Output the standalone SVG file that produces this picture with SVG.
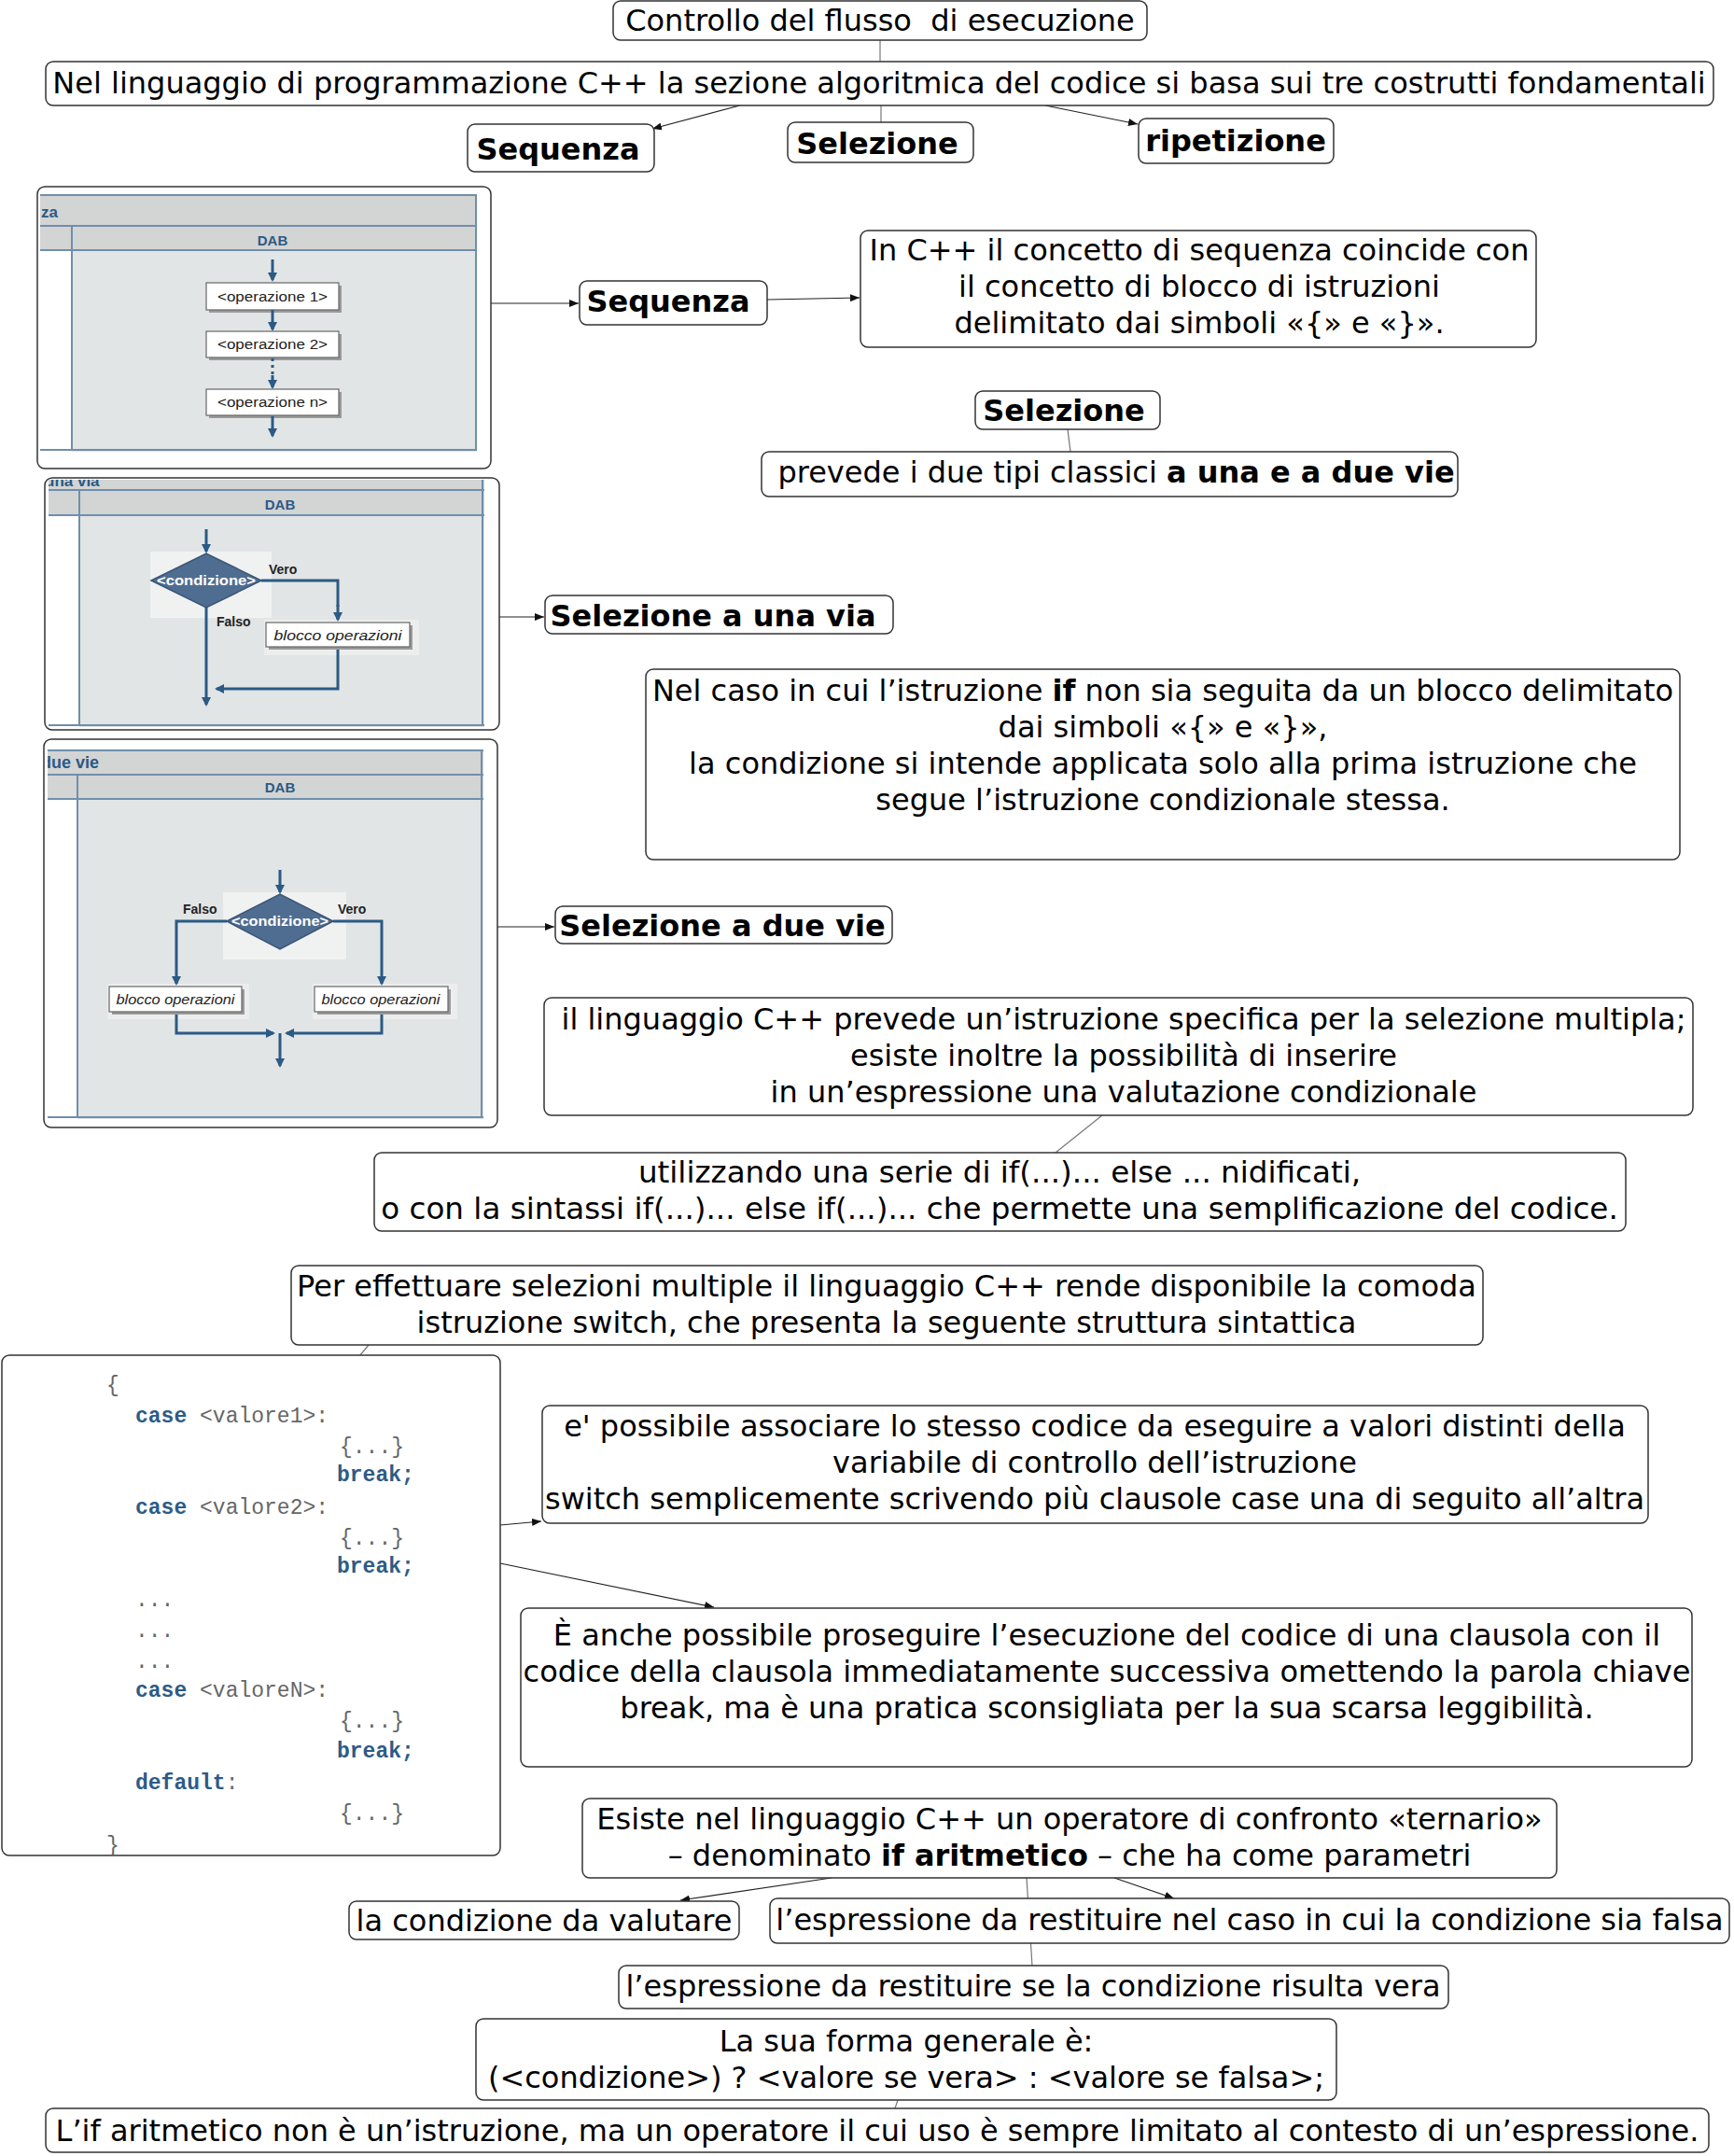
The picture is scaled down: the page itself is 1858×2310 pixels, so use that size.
<svg xmlns="http://www.w3.org/2000/svg" width="1858" height="2310" viewBox="0 0 1858 2310">
<style>
.box{fill:#fff;stroke:#333;stroke-width:1.5}
.t{font-family:"DejaVu Sans",sans-serif;font-size:32px;fill:#000;text-anchor:middle}
.b{font-weight:bold}
.ln{stroke:#777;stroke-width:1.2;fill:none}
.ar{stroke:#222;stroke-width:1.2;fill:none;marker-end:url(#ah)}
.band{fill:#d3d4d4}
.body{fill:#e2e5e5}
.bl{stroke:#6f8fab;stroke-width:2;fill:none}
.fl{stroke:#2b5a85;stroke-width:3;fill:none}
.fla{stroke:#2b5a85;stroke-width:3;fill:none;marker-end:url(#fa)}
.hd{font-family:"Liberation Sans",sans-serif;font-weight:bold;fill:#2b5a85}
.op{fill:#fff;stroke:#666;stroke-width:1.2}
.sh{fill:#9a9a9a}
.opt{font-family:"Liberation Sans",sans-serif;font-size:14px;fill:#222;text-anchor:middle}
.dia{fill:#4f6d90;stroke:#3a5577;stroke-width:1.5}
.lab{font-family:"Liberation Sans",sans-serif;font-size:14px;font-weight:bold;fill:#222}
.mono{font-family:"Liberation Mono",monospace;font-size:23px;fill:#666}
.kw{font-weight:bold;fill:#2d5b87}
</style>
<defs>
<marker id="ah" markerUnits="userSpaceOnUse" markerWidth="10" markerHeight="8" refX="10" refY="4" orient="auto"><path d="M0,0 L10,4 L0,8 z" fill="#111"/></marker>
<marker id="fa" markerUnits="userSpaceOnUse" markerWidth="10" markerHeight="10" refX="8" refY="5" orient="auto"><path d="M0,0 L10,5 L0,10 z" fill="#2b5a85"/></marker>
<clipPath id="cp1"><rect x="43" y="208" width="468" height="276"/></clipPath>
<clipPath id="cp2"><rect x="52" y="514" width="467" height="265"/></clipPath>
<clipPath id="cp3"><rect x="51" y="803" width="467" height="396"/></clipPath>
</defs>
<rect width="1858" height="2310" fill="#fff"/>

<g id="connectors">
<line class="ln" x1="943" y1="43" x2="943" y2="66"/>
<line class="ar" x1="793" y1="113" x2="699" y2="138"/>
<line class="ln" x1="944" y1="113" x2="944" y2="131"/>
<line class="ar" x1="1120" y1="113" x2="1219" y2="133"/>
<line class="ar" x1="526" y1="325" x2="620" y2="325"/>
<line class="ar" x1="822" y1="321" x2="921" y2="319"/>
<line class="ln" x1="1144" y1="460" x2="1147" y2="484"/>
<line class="ar" x1="535" y1="661" x2="583" y2="661"/>
<line class="ar" x1="533" y1="993" x2="594" y2="993"/>
<line class="ln" x1="1181" y1="1195" x2="1131" y2="1235"/>
<line class="ln" x1="395" y1="1441" x2="385" y2="1453"/>
<line class="ar" x1="536" y1="1634" x2="580" y2="1630"/>
<line class="ar" x1="536" y1="1675" x2="765" y2="1722"/>
<line class="ar" x1="891" y1="2012" x2="729" y2="2036"/>
<line class="ln" x1="1100" y1="2012" x2="1106" y2="2106"/>
<line class="ar" x1="1194" y1="2012" x2="1258" y2="2034"/>
<line class="ln" x1="962" y1="2250" x2="959" y2="2259"/>
</g>

<g id="n-controllo"><rect class="box" x="657" y="1" width="572" height="42" rx="8"/><text class="t" x="943" y="33">Controllo del flusso&#160; di esecuzione</text></g>
<g id="n-nel"><rect class="box" x="49" y="66" width="1787" height="47" rx="8"/><text class="t" x="942" y="100">Nel linguaggio di programmazione C++ la sezione algoritmica del codice si basa sui tre costrutti fondamentali</text></g>
<g id="n-sequenza"><rect class="box" x="501" y="133" width="200" height="51" rx="8"/><text class="t b" x="598" y="171">Sequenza</text></g>
<g id="n-selezione"><rect class="box" x="844" y="131" width="199" height="43" rx="8"/><text class="t b" x="940" y="165">Selezione</text></g>
<g id="n-ripetizione"><rect class="box" x="1220" y="127" width="209" height="48" rx="8"/><text class="t b" x="1324" y="162">ripetizione</text></g>

<g id="n-img-sequenza">
<rect class="box" x="40" y="200" width="486" height="302" rx="8"/>
<g clip-path="url(#cp1)">
<rect class="body" x="43" y="208" width="468" height="276"/>
<rect x="43" y="268" width="34" height="216" fill="#fff"/>
<rect class="band" x="43" y="208" width="468" height="60"/>
<line class="bl" x1="43" y1="209" x2="511" y2="209"/>
<line class="bl" x1="43" y1="242" x2="511" y2="242"/>
<line class="bl" x1="43" y1="268" x2="511" y2="268"/>
<line class="bl" x1="77" y1="242" x2="77" y2="483" stroke="#9cb0c2"/>
<line class="bl" x1="510" y1="208" x2="510" y2="483"/>
<line class="bl" x1="43" y1="482" x2="511" y2="482"/>
<text class="hd" x="44" y="233" font-size="17">za</text>
<text class="hd" x="292" y="263" font-size="15" text-anchor="middle">DAB</text>
<line class="fla" x1="292" y1="278" x2="292" y2="300"/>
<rect class="sh" x="224" y="306" width="142" height="29"/><rect class="op" x="221" y="303" width="142" height="29"/>
<text class="opt" x="292" y="323" textLength="118" lengthAdjust="spacingAndGlyphs">&lt;operazione 1&gt;</text>
<line class="fla" x1="292" y1="332" x2="292" y2="353"/>
<rect class="sh" x="224" y="358" width="142" height="28"/><rect class="op" x="221" y="355" width="142" height="28"/>
<text class="opt" x="292" y="374" textLength="118" lengthAdjust="spacingAndGlyphs">&lt;operazione 2&gt;</text>
<line class="fl" x1="292" y1="384" x2="292" y2="402" stroke-dasharray="3,4"/>
<line class="fla" x1="292" y1="402" x2="292" y2="415"/>
<rect class="sh" x="224" y="420" width="142" height="28"/><rect class="op" x="221" y="417" width="142" height="28"/>
<text class="opt" x="292" y="436" textLength="118" lengthAdjust="spacingAndGlyphs">&lt;operazione n&gt;</text>
<line class="fla" x1="292" y1="446" x2="292" y2="467"/>
</g>
</g>

<g id="n-sequenza2"><rect class="box" x="621" y="301" width="201" height="47" rx="8"/><text class="t b" x="716" y="334">Sequenza</text></g>
<g id="n-inc"><rect class="box" x="922" y="247" width="724" height="125" rx="8"/>
<text class="t" x="1285" y="279">In C++ il concetto di sequenza coincide con</text>
<text class="t" x="1285" y="318">il concetto di blocco di istruzioni</text>
<text class="t" x="1285" y="357">delimitato dai simboli «{» e «}».</text></g>
<g id="n-selezione2"><rect class="box" x="1045" y="419" width="198" height="41" rx="8"/><text class="t b" x="1140" y="451">Selezione</text></g>
<g id="n-prevede"><rect class="box" x="816" y="484" width="746" height="48" rx="8"/><text class="t" x="1196" y="517">prevede i due tipi classici <tspan class="b">a una e a due vie</tspan></text></g>

<g id="n-img-unavia">
<rect class="box" x="48" y="512" width="487" height="270" rx="8"/>
<g clip-path="url(#cp2)">
<rect class="body" x="52" y="514" width="467" height="265"/>
<rect x="52" y="552" width="33" height="227" fill="#fff"/>
<rect class="band" x="52" y="514" width="467" height="38"/>
<line class="bl" x1="52" y1="525" x2="519" y2="525"/>
<line class="bl" x1="52" y1="552" x2="519" y2="552"/>
<line class="bl" x1="85" y1="525" x2="85" y2="778" stroke="#9cb0c2"/>
<line class="bl" x1="517" y1="514" x2="517" y2="778"/>
<line class="bl" x1="52" y1="777" x2="519" y2="777"/>
<text class="hd" x="48" y="521" font-size="17">una via</text>
<text class="hd" x="300" y="546" font-size="15" text-anchor="middle">DAB</text>
<rect x="161" y="591" width="130" height="71" fill="#f0f1f1"/>
<rect x="283" y="664" width="166" height="38" fill="#eceeee"/>
<line class="fla" x1="221" y1="567" x2="221" y2="591"/>
<path class="fl" d="M280,622 H362 V650"/>
<line class="fla" x1="362" y1="648" x2="362" y2="664"/>
<path class="fla" d="M221,651 V755"/>
<path class="fla" d="M362,693 V738 H232"/>
<polygon class="dia" points="162,622 221,593 280,622 221,651"/>
<text class="opt" x="221" y="627" style="fill:#fff;font-weight:bold" textLength="106" lengthAdjust="spacingAndGlyphs">&lt;condizione&gt;</text>
<text class="lab" x="288" y="615">Vero</text>
<text class="lab" x="232" y="671">Falso</text>
<rect class="sh" x="288" y="670" width="154" height="26"/><rect class="op" x="285" y="667" width="154" height="26"/>
<text class="opt" x="362" y="686" font-style="italic" textLength="137" lengthAdjust="spacingAndGlyphs">blocco operazioni</text>
</g>
</g>

<g id="n-selunavia"><rect class="box" x="584" y="638" width="373" height="41" rx="8"/><text class="t b" x="764" y="671">Selezione a una via</text></g>
<g id="n-nelcaso"><rect class="box" x="692" y="717" width="1108" height="204" rx="8"/>
<text class="t" x="1246" y="751">Nel caso in cui l’istruzione <tspan class="b">if</tspan> non sia seguita da un blocco delimitato</text>
<text class="t" x="1246" y="790">dai simboli «{» e «}»,</text>
<text class="t" x="1246" y="829">la condizione si intende applicata solo alla prima istruzione che</text>
<text class="t" x="1246" y="868">segue l’istruzione condizionale stessa.</text></g>

<g id="n-img-duevie">
<rect class="box" x="47" y="792" width="486" height="416" rx="8"/>
<g clip-path="url(#cp3)">
<rect class="body" x="51" y="803" width="467" height="396"/>
<rect x="51" y="856" width="32" height="343" fill="#fff"/>
<rect class="band" x="51" y="803" width="467" height="53"/>
<line class="bl" x1="51" y1="804" x2="518" y2="804"/>
<line class="bl" x1="51" y1="830" x2="518" y2="830"/>
<line class="bl" x1="51" y1="856" x2="518" y2="856"/>
<line class="bl" x1="83" y1="830" x2="83" y2="1198" stroke="#9cb0c2"/>
<line class="bl" x1="516" y1="803" x2="516" y2="1198"/>
<line class="bl" x1="51" y1="1197" x2="518" y2="1197"/>
<text class="hd" x="44" y="823" font-size="18">due vie</text>
<text class="hd" x="300" y="849" font-size="15" text-anchor="middle">DAB</text>
<rect x="239" y="956" width="132" height="72" fill="#f0f1f1"/>
<rect x="115" y="1054" width="152" height="38" fill="#eceeee"/>
<rect x="335" y="1054" width="155" height="38" fill="#eceeee"/>
<line class="fla" x1="300" y1="932" x2="300" y2="956"/>
<path class="fla" d="M243,987 H189 V1054"/>
<path class="fla" d="M357,987 H409 V1054"/>
<path class="fla" d="M189,1084 V1107 H293"/>
<path class="fla" d="M409,1084 V1107 H307"/>
<line class="fla" x1="300" y1="1107" x2="300" y2="1142"/>
<polygon class="dia" points="243,987 300,958 357,987 300,1017"/>
<text class="opt" x="300" y="992" style="fill:#fff;font-weight:bold" textLength="104" lengthAdjust="spacingAndGlyphs">&lt;condizione&gt;</text>
<text class="lab" x="196" y="979">Falso</text>
<text class="lab" x="362" y="979">Vero</text>
<rect class="sh" x="120" y="1060" width="142" height="27"/><rect class="op" x="117" y="1057" width="142" height="27"/>
<text class="opt" x="188" y="1076" font-style="italic" textLength="127" lengthAdjust="spacingAndGlyphs">blocco operazioni</text>
<rect class="sh" x="340" y="1060" width="143" height="27"/><rect class="op" x="337" y="1057" width="143" height="27"/>
<text class="opt" x="408" y="1076" font-style="italic" textLength="127" lengthAdjust="spacingAndGlyphs">blocco operazioni</text>
</g>
</g>

<g id="n-selduevie"><rect class="box" x="595" y="971" width="361" height="40" rx="8"/><text class="t b" x="774" y="1003">Selezione a due vie</text></g>
<g id="n-illing"><rect class="box" x="583" y="1069" width="1231" height="126" rx="8"/>
<text class="t" x="1204" y="1103">il linguaggio C++ prevede un’istruzione specifica per la selezione multipla;</text>
<text class="t" x="1204" y="1142">esiste inoltre la possibilità di inserire</text>
<text class="t" x="1204" y="1181">in un’espressione una valutazione condizionale</text></g>
<g id="n-utilizzando"><rect class="box" x="401" y="1235" width="1341" height="84" rx="8"/>
<text class="t" x="1071" y="1267" style="font-size:32.6px">utilizzando una serie di if(...)... else ... nidificati,</text>
<text class="t" x="1071" y="1306" style="font-size:32.6px">o con la sintassi if(...)... else if(...)... che permette una semplificazione del codice.</text></g>
<g id="n-pereff"><rect class="box" x="312" y="1356" width="1277" height="85" rx="8"/>
<text class="t" x="950" y="1389">Per effettuare selezioni multiple il linguaggio C++ rende disponibile la comoda</text>
<text class="t" x="950" y="1428">istruzione switch, che presenta la seguente struttura sintattica</text></g>

<g id="n-code">
<rect class="box" x="2" y="1452" width="534" height="536" rx="8"/>
<text class="mono" x="114" y="1491">{</text>
<text class="mono" x="145" y="1524"><tspan class="kw">case</tspan> &lt;valore1&gt;:</text>
<text class="mono" x="364" y="1557">{...}</text>
<text class="mono kw" x="361" y="1587">break;</text>
<text class="mono" x="145" y="1622"><tspan class="kw">case</tspan> &lt;valore2&gt;:</text>
<text class="mono" x="364" y="1655">{...}</text>
<text class="mono kw" x="361" y="1685">break;</text>
<text class="mono" x="145" y="1721">...</text>
<text class="mono" x="145" y="1754">...</text>
<text class="mono" x="145" y="1787">...</text>
<text class="mono" x="145" y="1818"><tspan class="kw">case</tspan> &lt;valoreN&gt;:</text>
<text class="mono" x="364" y="1851">{...}</text>
<text class="mono kw" x="361" y="1883">break;</text>
<text class="mono kw" x="145" y="1917">default<tspan style="font-weight:normal;fill:#666">:</tspan></text>
<text class="mono" x="364" y="1950">{...}</text>
<text class="mono" x="114" y="1984">}</text>
</g>

<g id="n-epossibile"><rect class="box" x="581" y="1506" width="1185" height="126" rx="8"/>
<text class="t" x="1173" y="1539">e' possibile associare lo stesso codice da eseguire a valori distinti della</text>
<text class="t" x="1173" y="1578">variabile di controllo dell’istruzione</text>
<text class="t" x="1173" y="1617">switch semplicemente scrivendo più clausole case una di seguito all’altra</text></g>
<g id="n-eanche"><rect class="box" x="558" y="1723" width="1255" height="170" rx="8"/>
<text class="t" x="1186" y="1763">È anche possibile proseguire l’esecuzione del codice di una clausola con il</text>
<text class="t" x="1186" y="1802">codice della clausola immediatamente successiva omettendo la parola chiave</text>
<text class="t" x="1186" y="1841">break, ma è una pratica sconsigliata per la sua scarsa leggibilità.</text></g>
<g id="n-esiste"><rect class="box" x="624" y="1927" width="1044" height="85" rx="8"/>
<text class="t" x="1146" y="1960">Esiste nel linguaggio C++ un operatore di confronto «ternario»</text>
<text class="t" x="1146" y="1999">– denominato <tspan class="b">if aritmetico</tspan> – che ha come parametri</text></g>
<g id="n-lacond"><rect class="box" x="374" y="2037" width="418" height="41" rx="8"/><text class="t" x="583" y="2069">la condizione da valutare</text></g>
<g id="n-espfalsa"><rect class="box" x="825" y="2034" width="1028" height="48" rx="8"/><text class="t" x="1339" y="2068">l’espressione da restituire nel caso in cui la condizione sia falsa</text></g>
<g id="n-espvera"><rect class="box" x="663" y="2106" width="889" height="46" rx="8"/><text class="t" x="1107" y="2139">l’espressione da restituire se la condizione risulta vera</text></g>
<g id="n-lasua"><rect class="box" x="510" y="2163" width="922" height="87" rx="8"/>
<text class="t" x="971" y="2198">La sua forma generale è:</text>
<text class="t" x="971" y="2237">(&lt;condizione&gt;) ? &lt;valore se vera&gt; : &lt;valore se falsa&gt;;</text></g>
<g id="n-lif"><rect class="box" x="49" y="2259" width="1782" height="47" rx="8"/><text class="t" x="940" y="2294">L’if aritmetico non è un’istruzione, ma un operatore il cui uso è sempre limitato al contesto di un’espressione.</text></g>
</svg>
